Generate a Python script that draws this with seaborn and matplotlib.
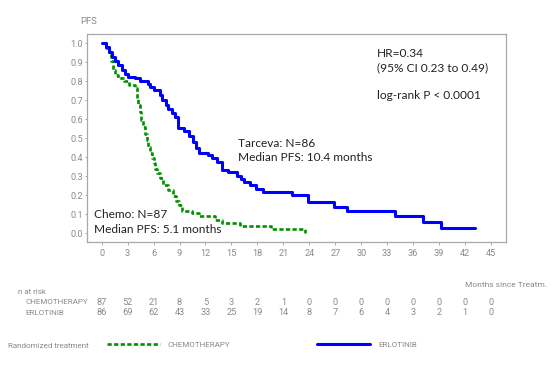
import numpy as np
import pandas as pd
import seaborn as sns
import matplotlib
matplotlib.use("Agg")
from matplotlib import pyplot as plt
from matplotlib import transforms

"""Данные, снятые с графика"""
chemo_months = [0, 0.5, 0.9, 1.1, 1.3, 1.5, 1.85, 2.6, 3.2, 3.8, 4.1, 4.25, 4.4, 4.6,
                4.8, 5.0, 5.2, 5.4, 5.6, 5.8, 6.0, 6.2, 6.45, 6.7, 7.1, 7.7, 8.3, 8.6,
                8.9, 9.25, 10.4, 11.2, 13.1, 13.9, 16.0, 19.6, 23.5]
chemo_pfs = [1.0, 0.975, 0.94, 0.905, 0.86, 0.835, 0.815, 0.80, 0.78, 0.765, 0.71, 0.675,
             0.64, 0.595, 0.56, 0.525, 0.49, 0.455, 0.425, 0.395, 0.37, 0.34, 0.315, 0.29,
             0.255, 0.23, 0.195, 0.17, 0.15, 0.115, 0.105, 0.09, 0.07, 0.056, 0.04, 0.022, 0.0]

erlo_months = [0, 0.5, 0.9, 1.2, 1.5, 1.9, 2.4, 2.7, 3.0, 3.8, 4.4, 5.4, 5.6, 6.1, 6.7,
               7.0, 7.4, 7.7, 8.1, 8.5, 8.8, 9.5, 10.1, 10.5, 10.9, 11.2, 12.3, 12.8, 13.3,
               13.9, 14.6, 15.6, 16.1, 16.4, 17.1, 17.8, 18.7, 22.0, 23.9, 26.9, 28.3,
               33.9, 37.1, 39.2, 43.2]
erlo_pfs = [1.0, 0.98, 0.955, 0.93, 0.905, 0.885, 0.86, 0.84, 0.825, 0.815, 0.80, 0.785,
            0.77, 0.755, 0.73, 0.70, 0.675, 0.655, 0.635, 0.61, 0.555, 0.54, 0.51, 0.48,
            0.45, 0.425, 0.41, 0.395, 0.375, 0.335, 0.325, 0.30, 0.285, 0.27, 0.255, 0.235,
            0.215, 0.20, 0.165, 0.14, 0.12, 0.09, 0.06, 0.03, 0.03]

risk_months = [0, 3, 6, 9, 12, 15, 18, 21, 24, 27, 30, 33, 36, 39, 42, 45]
risk_chemo = [87, 52, 21, 8, 5, 3, 2, 1, 0, 0, 0, 0, 0, 0, 0, 0]
risk_erlo = [86, 69, 62, 43, 33, 25, 19, 14, 8, 7, 6, 4, 3, 2, 1, 0]

y_ticks = [0.0, 0.1, 0.2, 0.3, 0.4, 0.5, 0.6, 0.7, 0.8, 0.9, 1.0]

"""Таблица для seaborn"""
df = pd.concat([
    pd.DataFrame({'month': chemo_months, 'pfs': chemo_pfs, 'arm': 'CHEMOTHERAPY'}),
    pd.DataFrame({'month': erlo_months, 'pfs': erlo_pfs, 'arm': 'ERLOTINIB'}),
])

sns.set_style('white')
plt.rcParams['font.family'] = ['DejaVu Sans']

W, H = 552, 368
fig = plt.figure(figsize=(W / 100, H / 100), dpi=100)
ax = fig.add_axes([86.7 / W, 1 - 241.7 / H, 419 / W, 207.7 / H])

GRAY = '#8a8a8a'
SMALL = ['Roboto', 'DejaVu Sans']
green = '#009000'
blue = '#0000ff'

sns.lineplot(data=df[df['arm'] == 'CHEMOTHERAPY'], x='month', y='pfs',
             color=green, linewidth=1.9, estimator=None, sort=False,
             drawstyle='steps-post', dashes=False, ax=ax, legend=False)
ax.lines[-1].set_dashes((1.6, 0.9))
sns.lineplot(data=df[df['arm'] == 'ERLOTINIB'], x='month', y='pfs',
             color=blue, linewidth=2.2, estimator=None, sort=False,
             drawstyle='steps-post', ax=ax, legend=False)

ax.set_xlim(-1.73, 46.7)
ax.set_ylim(-0.044, 1.049)
ax.set_xticks(risk_months)
ax.set_yticks(y_ticks)
ax.set_yticklabels([f'{v:.1f}' for v in y_ticks])
ax.set_xlabel('')
ax.set_ylabel('')
for s in ax.spines.values():
    s.set_color('#a8a8a8')
    s.set_linewidth(0.9)
ax.tick_params(axis='x', length=2.2, width=0.7, color='#a8a8a8', pad=3.3,
               labelsize=6.6, labelcolor=GRAY, bottom=True)
ax.tick_params(axis='y', length=1.5, width=0.7, color='#a8a8a8', pad=1.2,
               labelsize=6.6, labelcolor=GRAY, left=True)
for lab in ax.get_xticklabels() + ax.get_yticklabels():
    lab.set_family(SMALL)


def px(x, y):
    return x / W, 1 - y / H


"""Подписи на графике"""
note = dict(family=['Lato', 'DejaVu Sans'], fontsize=8.6, color='#222222', va='baseline')
fig.text(*px(376.7, 57.3), 'HR=0.34', **note)
fig.text(*px(376.7, 71.0), '(95% CI 0.23 to 0.49)', **note)
fig.text(*px(376.7, 99.3), 'log-rank P < 0.0001', **note)
fig.text(*px(238.3, 146.7), 'Tarceva: N=86', **note)
fig.text(*px(238.3, 160.7), 'Median PFS: 10.4 months', **note)
fig.text(*px(94.3, 218.3), 'Chemo: N=87', **note)
fig.text(*px(94.3, 232.7), 'Median PFS: 5.1 months', **note)

fig.text(*px(80, 24), 'PFS', family=SMALL, fontsize=6.8, color=GRAY, va='baseline')
fig.text(*px(546.7, 286.7), 'Months since Treatm.', family=SMALL, fontsize=6.0,
         color=GRAY, ha='right', va='baseline')

"""Число под риском"""
small = dict(family=SMALL, fontsize=5.8, color=GRAY, va='center')
nums = dict(family=SMALL, fontsize=6.6, color=GRAY, va='center', ha='center')
fig.text(*px(18.3, 291.7), 'n at risk', **small)
fig.text(*px(25, 302.3), 'CHEMOTHERAPY', **small)
fig.text(*px(25, 312.7), 'ERLOTINIB', **small)
tr = transforms.blended_transform_factory(ax.transData, fig.transFigure)
for m, c, e in zip(risk_months, risk_chemo, risk_erlo):
    ax.text(m, px(0, 302.3)[1], str(c), transform=tr, **nums)
    ax.text(m, px(0, 312.7)[1], str(e), transform=tr, **nums)

"""Легенда"""
fig.text(*px(8.3, 345.7), 'Randomized treatment', **small)
lines = ax.get_lines()
for h, lab, x0 in [(lines[0], 'CHEMOTHERAPY', 106.7), (lines[1], 'ERLOTINIB', 317.3)]:
    fig.legend([h], [lab], loc='center left', bbox_to_anchor=px(x0, 344.5),
               frameon=False, borderpad=0, borderaxespad=0, handlelength=6.6,
               handletextpad=1.0, prop={'family': SMALL, 'size': 5.8},
               labelcolor=GRAY)

fig.savefig('out.png', dpi=100)
